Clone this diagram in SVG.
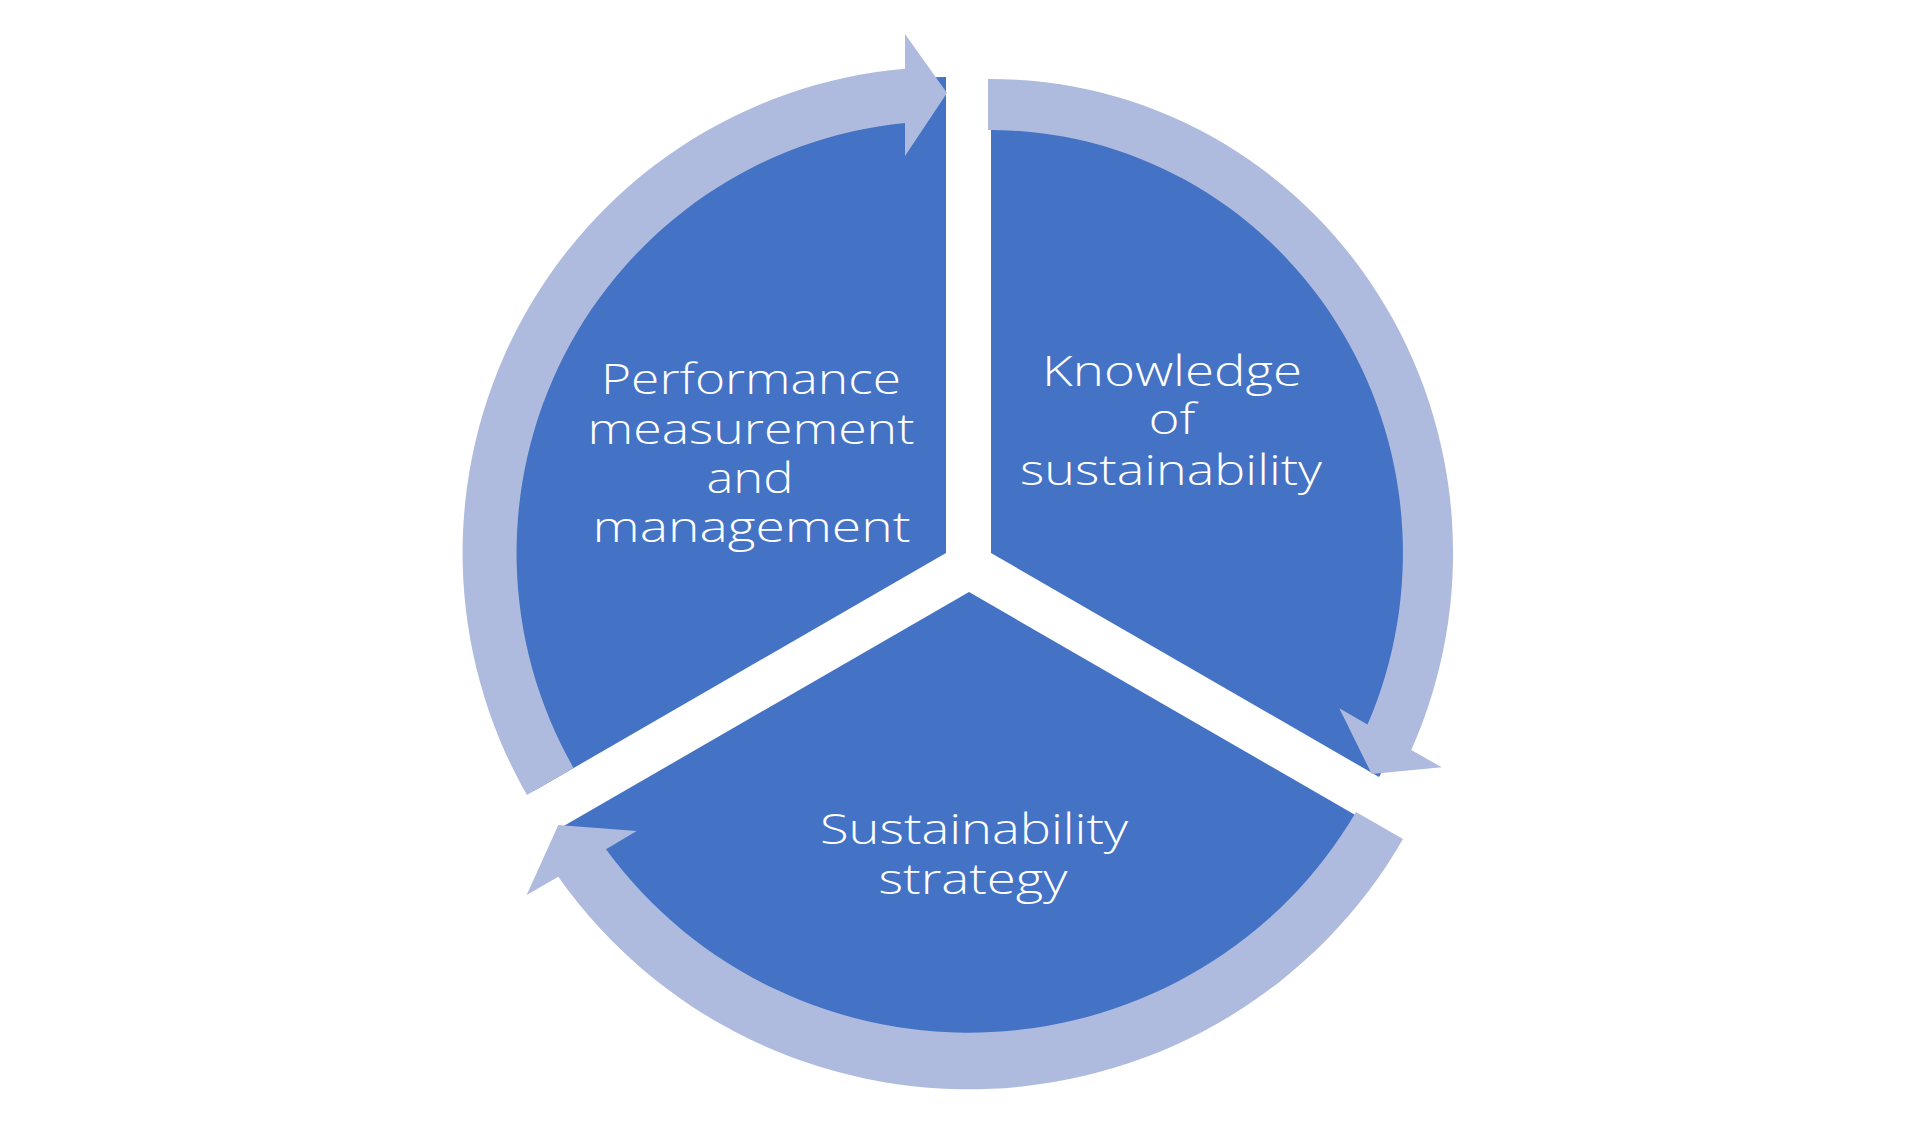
<svg xmlns="http://www.w3.org/2000/svg" width="1915" height="1141" viewBox="0 0 1915 1141">
<style>
.seg{fill:#4472C4;}
.arr{fill:#AFBBDE;}
.lbl{font-family:"Open Sans","DejaVu Sans","Liberation Sans",sans-serif;font-weight:300;font-size:43px;fill:#FFFFFF;text-anchor:middle;}
</style>
<rect width="1915" height="1141" fill="#FFFFFF"/>
<g id="segments">
<g id="node-performance"><path class="seg" d="M946,553 L946,77 A476,476 0 0 0 533.8,791 Z"/></g>
<g id="node-knowledge"><path class="seg" d="M991,553 L991,105 A448,448 0 0 1 1379,777 Z"/></g>
<g id="node-strategy"><path class="seg" d="M969,592 L1377.8,828 A472,472 0 0 1 560.2,828 Z"/></g>
</g>
<g id="connectors">
<path id="arrow-left" class="arr" d="M526.9,795 A484,486 0 0 1 905,68.7 L905,34 L947,93 L905,156 L905,123 A430,432 0 0 0 573.6,768 Z"/>
<path id="arrow-right" class="arr" d="M988,79 A462,474 0 0 1 1411.3,749.9 L1441.7,767.3 L1371.7,774 L1339.3,708.3 L1367.5,724.6 A412,423 0 0 0 988,130 Z"/>
<path id="arrow-bottom" class="arr" d="M1403,839 A500,496 0 0 1 558.3,876.7 L526.7,895 L558.3,825 L636.7,831 L606,849.3 A447,441 0 0 0 1356,812 Z"/>
</g>
<g id="labels">
<g id="label-performance">
<text class="lbl" x="751" y="394" textLength="300" lengthAdjust="spacingAndGlyphs">Performance</text>
<text class="lbl" x="751" y="443.5" textLength="327" lengthAdjust="spacingAndGlyphs">measurement</text>
<text class="lbl" x="750" y="493" textLength="87" lengthAdjust="spacingAndGlyphs">and</text>
<text class="lbl" x="751.5" y="542" textLength="318" lengthAdjust="spacingAndGlyphs">management</text>
</g>
<g id="label-knowledge">
<text class="lbl" x="1172" y="385.5" textLength="260" lengthAdjust="spacingAndGlyphs">Knowledge</text>
<text class="lbl" x="1172" y="434" textLength="47" lengthAdjust="spacingAndGlyphs">of</text>
<text class="lbl" x="1171" y="485" textLength="302" lengthAdjust="spacingAndGlyphs">sustainability</text>
</g>
<g id="label-strategy">
<text class="lbl" x="974" y="843.5" textLength="308" lengthAdjust="spacingAndGlyphs">Sustainability</text>
<text class="lbl" x="973" y="894" textLength="189" lengthAdjust="spacingAndGlyphs">strategy</text>
</g>
</g>
</svg>
